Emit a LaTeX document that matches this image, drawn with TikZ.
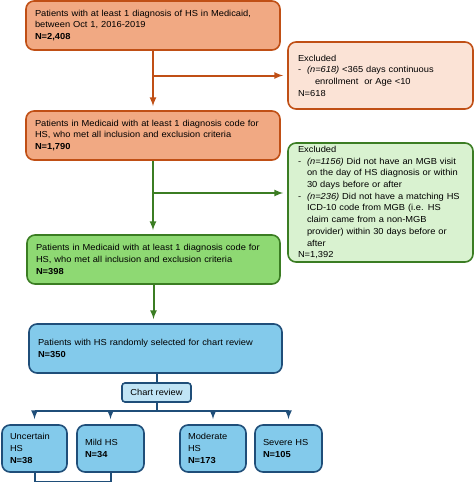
\documentclass[tikz,border=0pt]{standalone}
\usepackage{fontspec}
\setmainfont{Liberation Sans}[FakeStretch=1.07]
\usetikzlibrary{calc, arrows.meta}
\definecolor{orangefill}{RGB}{241,169,131}
\definecolor{orangelight}{RGB}{251,227,214}
\definecolor{orangeline}{RGB}{192,79,21}
\definecolor{greenfill}{RGB}{142,217,115}
\definecolor{greenlight}{RGB}{217,242,208}
\definecolor{greenline}{RGB}{59,125,35}
\definecolor{bluefill}{RGB}{131,202,235}
\definecolor{bluelight}{RGB}{192,228,245}
\definecolor{blueline}{RGB}{31,78,121}
\tikzset{
    box/.style={draw, rounded corners=8pt, line width=1.6pt, align=left, inner xsep=9pt, inner ysep=0pt, font=\fontsize{8.7}{11.7}\selectfont},
    obox/.style={box, draw=orangeline, fill=orangefill},
    oexcl/.style={box, draw=orangeline, fill=orangelight, inner xsep=10pt},
    gbox/.style={box, draw=greenline, fill=greenfill},
    gexcl/.style={box, draw=greenline, fill=greenlight, inner xsep=10pt},
    bbox/.style={box, draw=blueline, fill=bluefill},
    sbox/.style={box, draw=blueline, fill=bluefill, inner xsep=8pt, minimum height=47pt},
    conn/.style={-latex, line width=2pt, shorten >=4pt}
}
\newcommand{\dashitem}{\makebox[9pt][l]{-}}
\begin{document}
\begin{tikzpicture}[x=1pt, y=-1pt]
    \useasboundingbox (0,0) rectangle (474,482);
    %disegno riquadri arancioni
    \node[obox, text width=236pt, minimum height=49pt] (pop) at (153,25.5) {Patients with at least 1 diagnosis of HS in Medicaid,\\between Oct 1, 2016-2019\\\textbf{N=2,408}};
    \node[oexcl, text width=165pt, minimum height=67pt] (exca) at (380.5,75.5) {Excluded\\\dashitem\textit{(n=618)} <365 days continuous\\\hspace*{17pt}enrollment\ \ or Age <10\\N=618};
    \node[obox, text width=236pt, minimum height=49pt] (elig) at (153,135.5) {Patients in Medicaid with at least 1 diagnosis code for\\HS, who met all inclusion and exclusion criteria\\\textbf{N=1,790}};
    %disegno riquadri verdi
    \node[gexcl, text width=165pt, minimum height=119pt] (excb) at (380.5,202.5) {Excluded\\\dashitem\textit{(n=1156)} Did not have an MGB visit\\\hspace*{9pt}on the day of HS diagnosis or within\\\hspace*{9pt}30 days before or after\\\dashitem\textit{(n=236)} Did not have a matching HS\\\hspace*{9pt}ICD-10 code from MGB (i.e. HS\\\hspace*{9pt}claim came from a non-MGB\\\hspace*{9pt}provider) within 30 days before or\\\hspace*{9pt}after\\N=1,392};
    \node[gbox, text width=235pt, minimum height=49pt] (mgb) at (153.5,259.5) {Patients in Medicaid with at least 1 diagnosis code for\\HS, who met all inclusion and exclusion criteria\\\textbf{N=398}};
    %disegno riquadri blu
    \node[bbox, text width=235pt, minimum height=49pt] (rev) at (155.5,348.5) {Patients with HS randomly selected for chart review\\\textbf{N=350}};
    \node[box, draw=blueline, fill=bluelight, rounded corners=3pt, align=center, inner xsep=2pt, minimum width=69pt, minimum height=19pt] (chart) at (156.5,392.5) {Chart review};
    \node[sbox, text width=49pt] (unc) at (34.5,448.5) {Uncertain\\HS\\\textbf{N=38}};
    \node[sbox, text width=51pt] (mild) at (110.5,448.5) {Mild HS\\\textbf{N=34}};
    \node[sbox, text width=50pt] (mod) at (213,448.5) {Moderate\\HS\\\textbf{N=173}};
    \node[sbox, text width=51pt] (sev) at (288.5,448.5) {Severe HS\\\textbf{N=105}};
    %disegno frecce arancioni
    \draw[conn, orangeline] (pop) -- (elig);
    \draw[conn, orangeline] (pop.south |- exca.west) -- (exca.west);
    %disegno frecce verdi
    \coordinate (gsplit) at (153,193);
    \draw[conn, greenline] (elig.south) -- (elig.south |- mgb.north);
    \draw[conn, greenline] (gsplit) -- (gsplit -| excb.west);
    \draw[conn, greenline] (mgb.south) -- (mgb.south |- rev.north);
    %disegno albero chart review
    \coordinate (fork) at (156.5,411);
    \draw[line width=2pt, blueline] (chart.north |- rev.south) -- (chart) -- (fork);
    \draw[line width=2pt, blueline] (unc.north |- fork) -- (sev.north |- fork);
    \foreach \n in {unc, mild, mod, sev}
        \draw[conn, blueline, shorten >=5pt] (\n.north |- fork) -- (\n.north);
    \draw[line width=2pt, blueline] (unc.south) -- ++(0,9) -| (mild.south);
\end{tikzpicture}
\end{document}
